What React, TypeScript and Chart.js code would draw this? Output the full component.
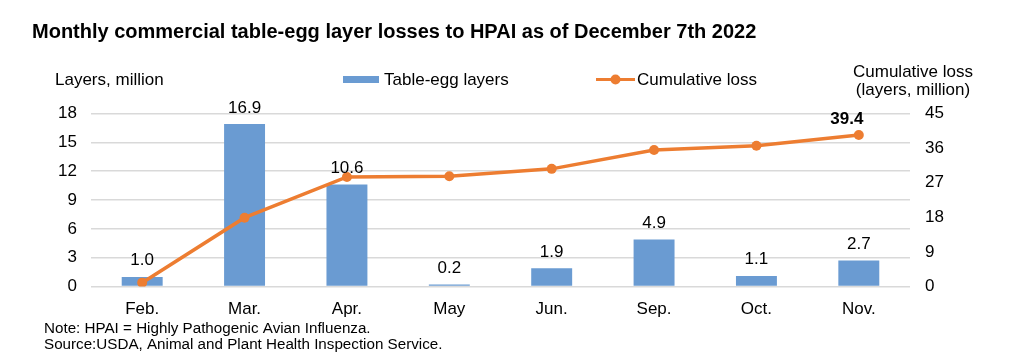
import React, { useEffect, useRef } from "react";
import { Chart, registerables } from "chart.js";

Chart.register(...registerables);

const months = ["Feb.", "Mar.", "Apr.", "May", "Jun.", "Sep.", "Oct.", "Nov."];
const monthlyLosses = [1.0, 16.9, 10.6, 0.2, 1.9, 4.9, 1.1, 2.7];
const cumulativeLoss = [1.0, 17.9, 28.5, 28.7, 30.6, 35.5, 36.6, 39.4];
const leftTicks = [0, 3, 6, 9, 12, 15, 18];
const rightTicks = [0, 9, 18, 27, 36, 45];

const titleText = "Monthly commercial table-egg layer losses to HPAI as of December 7th 2022";
const leftAxisTitle = "Layers, million";
const rightAxisTitle = ["Cumulative loss", "(layers, million)"];
const barLabel = "Table-egg layers";
const lineLabel = "Cumulative loss";
const notes = [
  "Note: HPAI = Highly Pathogenic Avian Influenza.",
  "Source:USDA, Animal and Plant Health Inspection Service.",
];

const FONT = "'Liberation Sans', Arial, sans-serif";
const BAR_COLOR = "#6a9bd2";
const LINE_COLOR = "#ed7d31";

const textPlugin = {
  id: "texts",
  afterDraw(chart: any) {
    const ctx = chart.ctx;
    ctx.save();
    ctx.fillStyle = "#000";
    ctx.textBaseline = "alphabetic";
    // title
    ctx.font = `bold 20px ${FONT}`;
    ctx.textAlign = "left";
    ctx.fillText(titleText, 32, 37.5);
    // left axis title
    ctx.font = `17px ${FONT}`;
    ctx.fillText(leftAxisTitle, 55, 84.5);
    // legend
    ctx.fillStyle = BAR_COLOR;
    ctx.fillRect(343, 76, 36, 7);
    ctx.fillStyle = "#000";
    ctx.fillText(barLabel, 384, 84.5);
    ctx.strokeStyle = LINE_COLOR;
    ctx.lineWidth = 3;
    ctx.beginPath();
    ctx.moveTo(596, 79.5);
    ctx.lineTo(635, 79.5);
    ctx.stroke();
    ctx.fillStyle = LINE_COLOR;
    ctx.beginPath();
    ctx.arc(615.5, 79.5, 5, 0, Math.PI * 2);
    ctx.fill();
    ctx.fillStyle = "#000";
    ctx.fillText(lineLabel, 637, 85);
    // right axis title
    ctx.textAlign = "center";
    ctx.fillText(rightAxisTitle[0], 913, 76.5);
    ctx.fillText(rightAxisTitle[1], 913, 95);
    // notes
    ctx.textAlign = "left";
    ctx.font = `15.2px ${FONT}`;
    ctx.fillText(notes[0], 44, 332.5);
    ctx.fillText(notes[1], 44, 348.5);

    // bar data labels
    ctx.font = `17px ${FONT}`;
    ctx.textAlign = "center";
    const barMeta = chart.getDatasetMeta(0);
    barMeta.data.forEach((el: any, i: number) => {
      ctx.fillText(monthlyLosses[i].toFixed(1), el.x, el.y - 11.5);
    });
    // last cumulative label
    const lineMeta = chart.getDatasetMeta(1);
    const last = lineMeta.data[lineMeta.data.length - 1];
    ctx.font = `bold 17px ${FONT}`;
    ctx.fillText(cumulativeLoss[cumulativeLoss.length - 1].toFixed(1), last.x - 12, last.y - 11);
    ctx.restore();
  },
};

export default function App() {
  const ref = useRef<HTMLCanvasElement>(null);
  useEffect(() => {
    if (!ref.current) return;
    const chart = new Chart(ref.current, {
      type: "bar",
      data: {
        labels: months,
        datasets: [
          {
            type: "bar",
            label: barLabel,
            data: monthlyLosses,
            backgroundColor: BAR_COLOR,
            yAxisID: "y",
            barPercentage: 0.4,
            categoryPercentage: 1,
            order: 1,
          },
          {
            type: "line",
            label: lineLabel,
            data: cumulativeLoss,
            borderColor: LINE_COLOR,
            backgroundColor: LINE_COLOR,
            borderWidth: 3.5,
            pointRadius: 5,
            pointBackgroundColor: LINE_COLOR,
            pointBorderWidth: 0,
            tension: 0,
            yAxisID: "y1",
            order: 0,
          },
        ],
      },
      options: {
        animation: false,
        responsive: false,
        maintainAspectRatio: false,
        layout: { padding: { top: 113.5, left: 0, right: 0, bottom: 0 } },
        plugins: {
          legend: { display: false },
          title: { display: false },
          tooltip: { enabled: false },
        },
        scales: {
          x: {
            grid: { display: false, drawTicks: false },
            border: { display: false },
            ticks: { color: "#000", font: { family: FONT, size: 17 }, padding: 13 },
            afterFit: (s: any) => { s.height = 75.5; },
          },
          y: {
            position: "left",
            min: 0,
            max: 18,
            afterBuildTicks: (s: any) => { s.ticks = leftTicks.map((v) => ({ value: v })); },
            grid: { color: "#d9d9d9", lineWidth: 1.5, drawTicks: false },
            border: { display: false },
            ticks: { color: "#000", font: { family: FONT, size: 17 }, padding: 14 },
            afterFit: (s: any) => { s.width = 91; },
          },
          y1: {
            position: "right",
            min: 0,
            max: 45,
            afterBuildTicks: (s: any) => { s.ticks = rightTicks.map((v) => ({ value: v })); },
            grid: { display: false, drawTicks: false },
            border: { display: false },
            ticks: { color: "#000", font: { family: FONT, size: 17 }, padding: 15 },
            afterFit: (s: any) => { s.width = 114; },
          },
        },
      },
      plugins: [textPlugin],
    });
    return () => chart.destroy();
  }, []);
  return (
    <div style={{ position: "absolute", left: 0, top: 0, width: 1024, height: 362, background: "#fff" }}>
      <canvas ref={ref} width={1024} height={362} style={{ display: "block" }} />
    </div>
  );
}
